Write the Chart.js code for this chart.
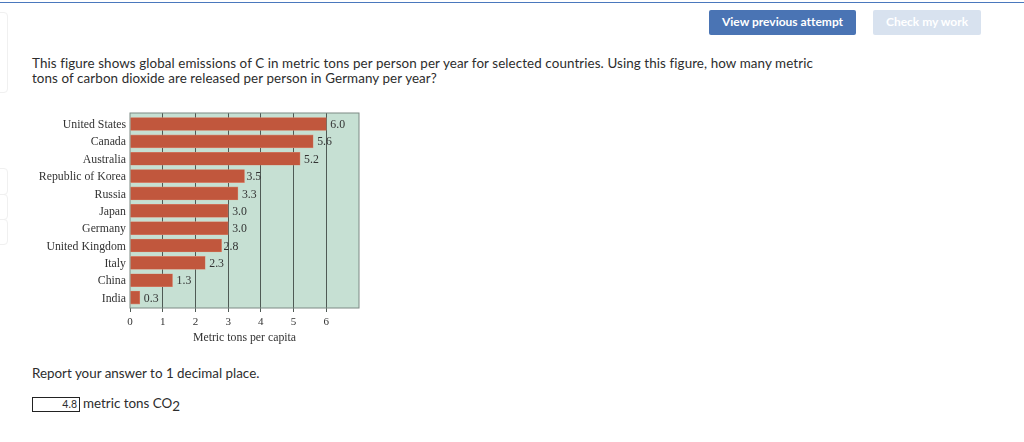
<!DOCTYPE html>
<html>
<head>
<meta charset="utf-8">
<title>Emissions per capita</title>
<script src="https://cdn.jsdelivr.net/npm/chart.js@4"></script>
<style>
	html, body { margin: 0; padding: 0; background: #fff; }
	body { position: relative; width: 1024px; height: 442px; overflow: hidden; font-family: "Lato", sans-serif; color: #2d2d2d; font-variant-ligatures: none; }
	.abs { position: absolute; white-space: nowrap; }
	#topLine { left: 0; top: 2px; width: 1024px; height: 1px; background: #4a78bd; }
	.btn { top: 10px; height: 24px; line-height: 24px; text-align: center; font-size: 12px; font-weight: 700; color: #fff; border-radius: 2px; }
	#btnPrev { left: 709px; width: 147px; height: 25px; background: #4a74b4; }
	#btnCheck { left: 873px; width: 108px; height: 25px; background: #d8e2ef; }
	.side { left: -6px; width: 14px; border: 1px solid #f0f0f0; border-radius: 4px; box-sizing: border-box; }
	#question { left: 32px; top: 56px; font-size: 13.4px; line-height: 15px; letter-spacing: 0.09px; }
	#report { left: 32px; top: 365px; font-size: 13.4px; }
	#answerBox { left: 32px; top: 397px; width: 48px; height: 15px; box-sizing: border-box; border: 1px solid #222; font-size: 10.5px; line-height: 13px; text-align: right; padding-right: 2px; }
	#unit { left: 83px; top: 395px; font-size: 13.4px; }
	#unit span { position: relative; top: 3px; }
	#chartWrap { left: 0; top: 100px; width: 380px; height: 250px; filter: blur(0.35px); }
</style>
</head>
<body>
<div class="abs" id="topLine"></div>
<div class="abs side" style="top:12px;height:81px"></div>
<div class="abs side" style="top:168px;height:27px"></div>
<div class="abs side" style="top:194px;height:26px"></div>
<div class="abs side" style="top:219px;height:26px"></div>
<div class="abs btn" id="btnPrev">View previous attempt</div>
<div class="abs btn" id="btnCheck">Check my work</div>
<div class="abs" id="question">This figure shows global emissions of C in metric tons per person per year for selected countries. Using this figure, how many metric<br>tons of carbon dioxide are released per person in Germany per year?</div>
<div class="abs" id="chartWrap"><canvas id="chart" width="380" height="250"></canvas></div>
<div class="abs" id="report">Report your answer to 1 decimal place.</div>
<div class="abs" id="answerBox">4.8</div>
<div class="abs" id="unit">metric tons CO<span>2</span></div>
<script>
	var categories = ["United States", "Canada", "Australia", "Republic of Korea", "Russia", "Japan", "Germany", "United Kingdom", "Italy", "China", "India"];
	var emissions = [6.0, 5.6, 5.2, 3.5, 3.3, 3.0, 3.0, 2.8, 2.3, 1.3, 0.3];
	var axisTitle = "Metric tons per capita";

	var serif = '"Liberation Serif", serif';
	var inkColor = "#333333";

	var panelPlugin = {
		id: "panel",
		beforeDraw: function(chart) {
			var a = chart.chartArea, ctx = chart.ctx;
			ctx.save();
			ctx.fillStyle = "#c6e0d3";
			ctx.fillRect(a.left, a.top, a.right - a.left, a.bottom - a.top);
			ctx.restore();
		},
		beforeDatasetsDraw: function(chart) {
			var a = chart.chartArea, ctx = chart.ctx;
			ctx.save();
			ctx.strokeStyle = "#7d8a84";
			ctx.lineWidth = 1;
			ctx.strokeRect(a.left, a.top, a.right - a.left, a.bottom - a.top);
			ctx.restore();
		}
	};

	// values sit just past the bar end, two of them closer like in the book figure
	var labelPlugin = {
		id: "barValues",
		afterDatasetsDraw: function(chart) {
			var ctx = chart.ctx;
			ctx.save();
			ctx.font = "11.8px " + serif;
			ctx.fillStyle = inkColor;
			ctx.textBaseline = "middle";
			chart.getDatasetMeta(0).data.forEach(function(bar, i) {
				var gap = (i === 3 || i === 7) ? 2 : 4;
				ctx.fillText(emissions[i].toFixed(1), bar.x + gap, bar.y + 1);
			});
			ctx.restore();
		}
	};

	new Chart(document.getElementById("chart"), {
		type: "bar",
		data: {
			datasets: [{
				data: emissions.map(function(v, i) { return { x: v, y: i }; }),
				backgroundColor: "#c1573d",
				borderColor: "#d98a74",
				borderWidth: 0.6,
				barThickness: 13
			}]
		},
		options: {
			indexAxis: "y",
			responsive: false,
			animation: false,
			layout: { padding: { top: 13, right: 21, left: 0, bottom: 5 } },
			plugins: { legend: { display: false }, tooltip: { enabled: false } },
			scales: {
				x: {
					type: "linear",
					min: 0,
					max: 7,
					afterFit: function(scale) { scale.height = 37; },
					border: { display: false },
					grid: {
						color: function(c) { return c.tick.value > 0 && c.tick.value < 7 ? "#4f5a55" : "rgba(0,0,0,0)"; },
						tickColor: function(c) { return c.tick.value < 7 ? "#4f5a55" : "rgba(0,0,0,0)"; },
						tickLength: 4
					},
					ticks: {
						stepSize: 1,
						maxRotation: 0,
						padding: 4,
						color: inkColor,
						font: { family: serif, size: 11 },
						callback: function(v) { return v < 7 ? v : ""; }
					},
					title: {
						display: true,
						text: axisTitle,
						color: inkColor,
						padding: { top: 1, bottom: 0 },
						font: { family: serif, size: 11.8 }
					}
				},
				y: {
					type: "linear",
					reverse: true,
					offset: false,
					min: -0.635,
					max: 10.6,
					afterBuildTicks: function(scale) {
						scale.ticks = categories.map(function(c, i) { return { value: i }; });
					},
					afterFit: function(scale) { scale.width = 130; },
					border: { display: false },
					grid: { display: false, drawTicks: false },
					ticks: {
						autoSkip: false,
						padding: 4,
						labelOffset: 1,
						color: inkColor,
						font: { family: serif, size: 11.8 },
						callback: function(v) { return categories[v]; }
					}
				}
			}
		},
		plugins: [panelPlugin, labelPlugin]
	});
</script>
</body>
</html>
